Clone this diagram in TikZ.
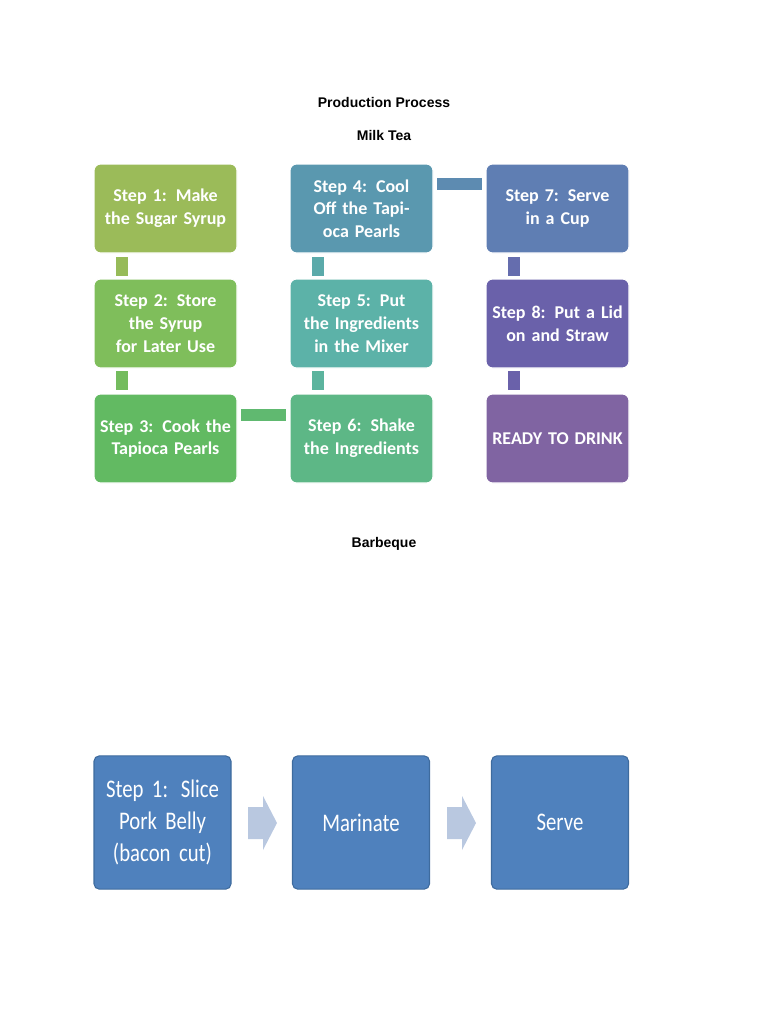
\documentclass[tikz,border=0pt]{standalone}
\usepackage{fontspec}
\setmainfont{Carlito}
\newfontfamily\arialf{Liberation Sans}
\begin{document}
\begin{tikzpicture}[x=0.75pt,y=-0.75pt]
\tikzset{
 box/.style={rounded corners=5pt,draw=white,line width=0.8pt,minimum width=107.25pt,minimum height=66.75pt,text width=100pt,align=center,text=white,font=\bfseries\fontsize{13.5}{17}\selectfont,inner sep=0pt},
 bbq/.style={rounded corners=4pt,fill=c8,draw=c8d,line width=0.8pt,minimum width=102.75pt,minimum height=100pt,text width=95pt,align=center,text=white,font=\fontsize{19}{24}\selectfont\addfontfeature{FakeStretch=0.82},inner sep=0pt},
 ttl/.style={font=\arialf\bfseries\fontsize{10.5}{12}\selectfont}
}
\definecolor{c1}{HTML}{9BBB59}\definecolor{c2}{HTML}{7FBE5B}\definecolor{c3}{HTML}{62BA62}
\definecolor{c4}{HTML}{5A98AF}\definecolor{c5}{HTML}{5CB2A8}\definecolor{c6}{HTML}{5DB786}
\definecolor{c7}{HTML}{5F7EB3}\definecolor{c8}{HTML}{4F81BD}\definecolor{c8d}{HTML}{3E6B9E}
\definecolor{c9}{HTML}{6A61AA}\definecolor{c10}{HTML}{8064A2}\definecolor{arr}{HTML}{B9C8E0}
\useasboundingbox (0,0) rectangle (768,1024);
\node[ttl] (t1) at (384,102) {Production Process};
\node[ttl] (t2) at (384,135) {Milk Tea};
\node[ttl] (t3) at (384,544) {Barbeque};
\node[box,fill=c1] (s1) at (165.5,208.5) {Step 1: Make the Sugar Syrup};
\node[box,fill=c2] (s2) at (165.5,323.5) {Step 2: Store the Syrup for Later Use};
\node[box,fill=c3] (s3) at (165.5,438.5) {Step 3: Cook the Tapioca Pearls};
\node[box,fill=c4] (s4) at (361.5,208.5) {Step 4: Cool Off the Tapioca Pearls};
\node[box,fill=c5] (s5) at (361.5,323.5) {Step 5: Put the Ingredients in the Mixer};
\node[box,fill=c6] (s6) at (361.5,438.5) {Step 6: Shake the Ingredients};
\node[box,fill=c7] (s7) at (557.5,208.5) {Step 7: Serve in a Cup};
\node[box,fill=c9] (s8) at (557.5,323.5) {Step 8: Put a Lid on and Straw};
\node[box,fill=c10] (s9) at (557.5,438.5) {READY TO DRINK};
\fill[c1!85!c2] (116,257) rectangle (128,276);
\fill[c2!60!c3] (116,371) rectangle (128,390);
\fill[c5!70!c4] (312,257) rectangle (324,276);
\fill[c5!70!c6] (312,371) rectangle (324,390);
\fill[c9!60!c7] (508,257) rectangle (520,276);
\fill[c9] (508,371) rectangle (520,390);
\fill[c3!60!c6] (241,409) rectangle (286,421);
\fill[c4!50!c7] (437,178) rectangle (482,190);
\node[bbq] (b1) at (162.5,822.5) {Step 1: Slice Pork Belly (bacon cut)};
\node[bbq] (b2) at (361,822.5) {Marinate};
\node[bbq] (b3) at (560,822.5) {Serve};
\fill[arr] (248,807) -- (263,807) -- (263,796) -- (277,823) -- (263,850) -- (263,839) -- (248,839) -- cycle;
\fill[arr] (447,807) -- (462,807) -- (462,796) -- (476,823) -- (462,850) -- (462,839) -- (447,839) -- cycle;
\end{tikzpicture}
\end{document}
